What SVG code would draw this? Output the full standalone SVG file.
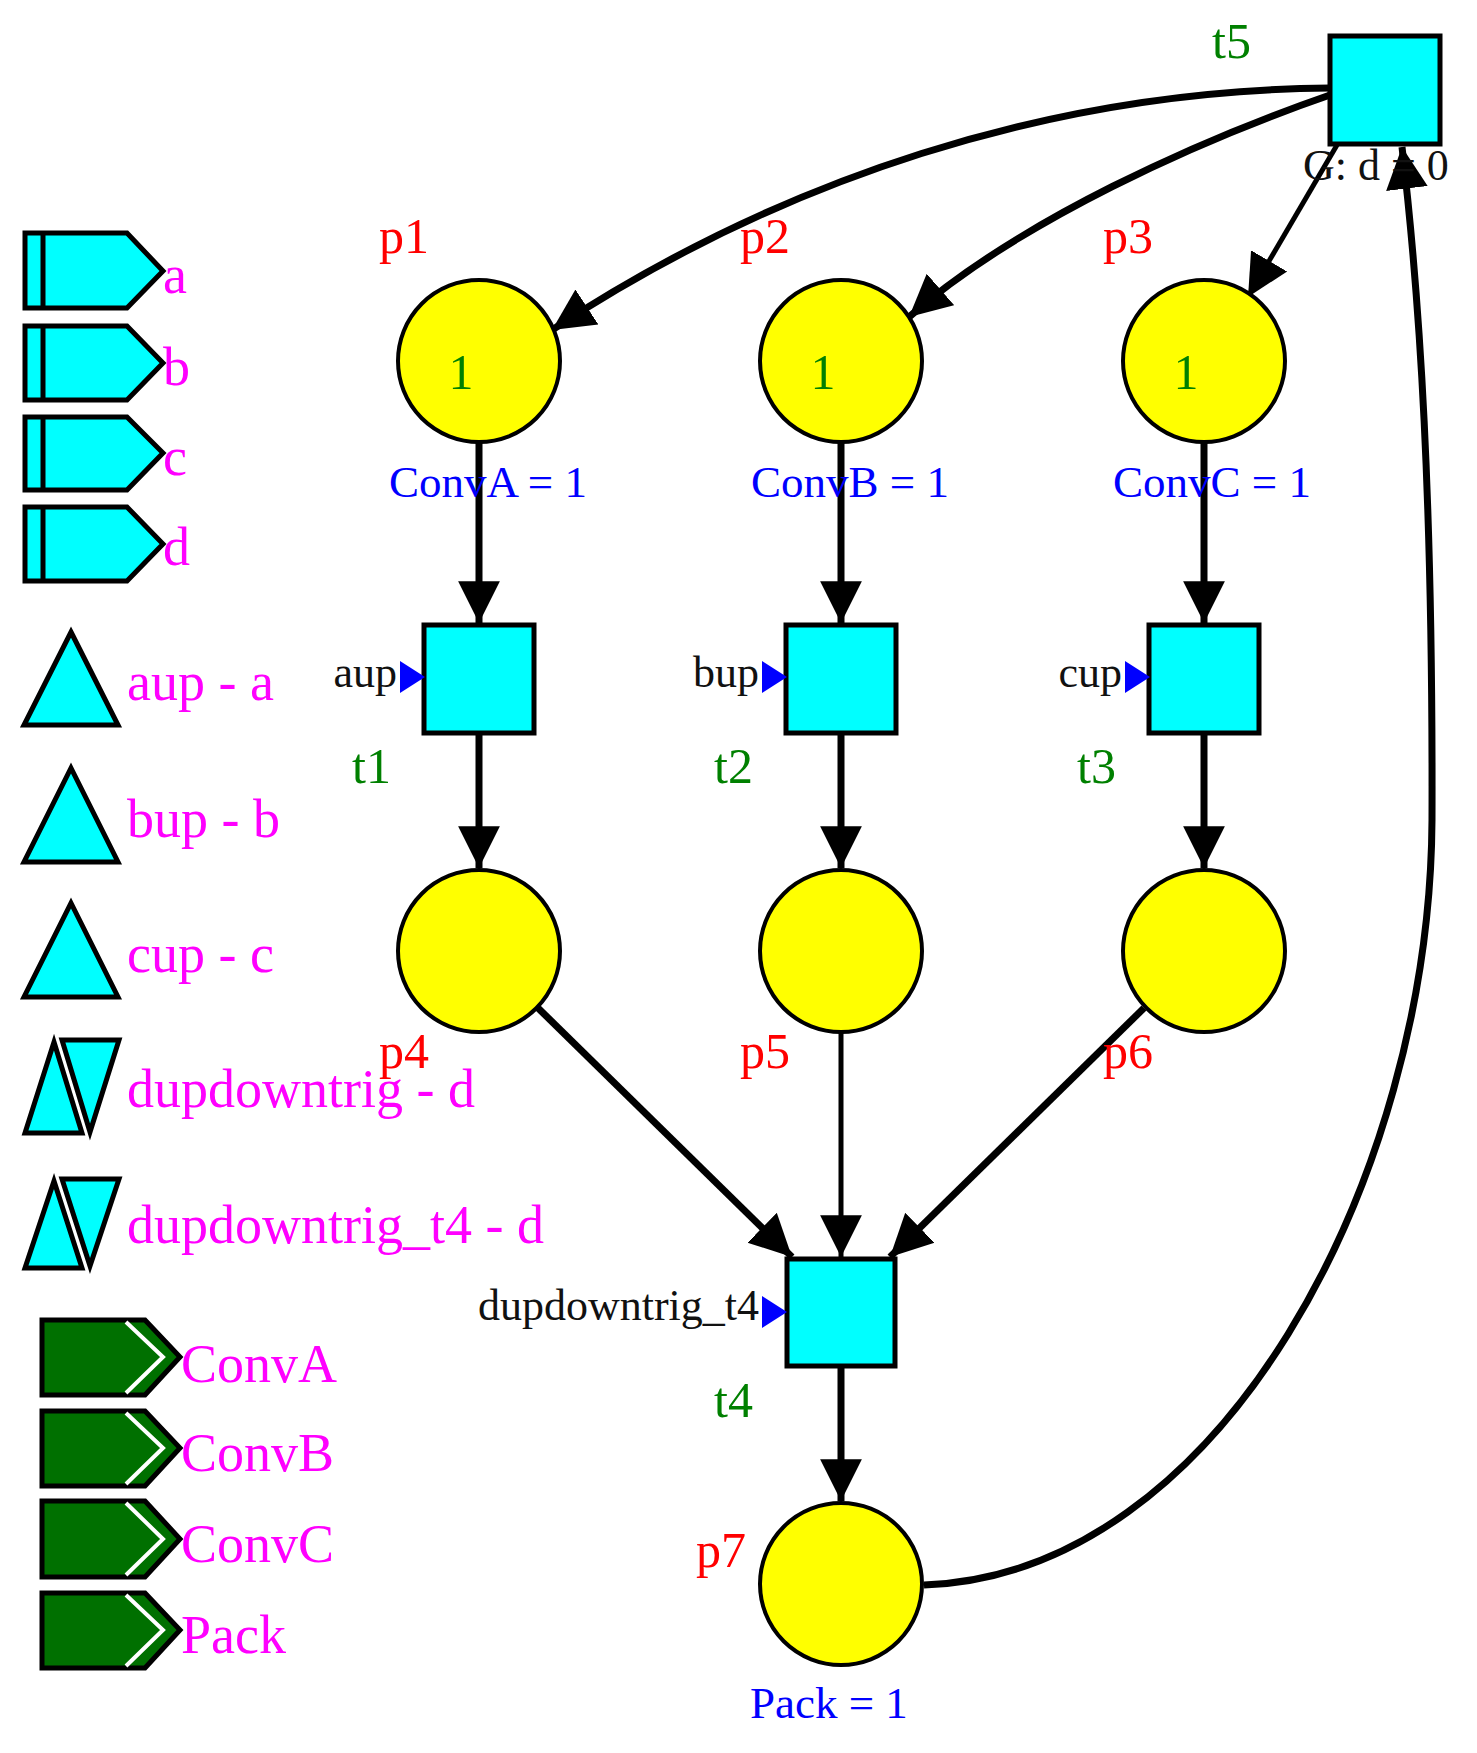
<svg xmlns="http://www.w3.org/2000/svg" width="1477" height="1753" viewBox="0 0 1477 1753">
<style>
text{font-family:"Liberation Serif","Times New Roman",serif}
.pl{fill:#ffff00;stroke:#000;stroke-width:4}
.tr{fill:#00ffff;stroke:#000;stroke-width:5}
.lg{fill:#00ffff;stroke:#000;stroke-width:5}
.gp{fill:#007000;stroke:#000;stroke-width:5}
.ch{fill:none;stroke:#fff;stroke-width:4}
.pn{fill:#ff0000;font-size:50px}
.tn{fill:#008000;font-size:50px}
.ann{fill:#0000ff;font-size:45px}
.blk{fill:#111;font-size:44px}
.mg{fill:#ff00ff;font-size:54px}
.tok{fill:#008000;font-size:50px;text-anchor:middle}
.tri{fill:#0000ff}
.e{fill:none;stroke:#000;stroke-width:7}
.e2{fill:none;stroke:#000;stroke-width:5}
</style>
<defs>
<marker id="ah" markerUnits="userSpaceOnUse" markerWidth="44" markerHeight="44" viewBox="0 0 40 40" refX="38" refY="20" orient="auto">
<path d="M0,1 L38,20 L0,39 z" fill="#000"/>
</marker>
</defs>
<g id="legend">
<g id="lg-a"><path class="lg" d="M25,233 H127 L163,271 L127,308 H25 z M43,233 V308"/><text class="mg" x="163" y="293">a</text></g>
<g id="lg-b"><path class="lg" d="M25,326 H127 L163,363 L127,400 H25 z M43,326 V400"/><text class="mg" x="163" y="385">b</text></g>
<g id="lg-c"><path class="lg" d="M25,417 H127 L163,453 L127,490 H25 z M43,417 V490"/><text class="mg" x="163" y="475">c</text></g>
<g id="lg-d"><path class="lg" d="M25,507 H127 L163,544 L127,581 H25 z M43,507 V581"/><text class="mg" x="163" y="565">d</text></g>
<g id="lg-aup"><polygon class="lg" points="71,632 118,725 24,725"/><text class="mg" x="127" y="700">aup - a</text></g>
<g id="lg-bup"><polygon class="lg" points="71,768 118,862 24,862"/><text class="mg" x="127" y="837">bup - b</text></g>
<g id="lg-cup"><polygon class="lg" points="71,903 118,997 24,997"/><text class="mg" x="127" y="972">cup - c</text></g>
<g id="lg-dup"><polygon class="lg" points="54,1042 82,1133 25,1133"/><polygon class="lg" points="62,1040 119,1040 90,1132"/><text class="mg" x="127" y="1107">dupdowntrig - d</text></g>
<g id="lg-dup4"><polygon class="lg" points="54,1181 82,1268 25,1268"/><polygon class="lg" points="62,1179 119,1179 90,1266"/><text class="mg" x="127" y="1243">dupdowntrig_t4 - d</text></g>
<g id="lg-ConvA"><path class="gp" d="M42,1320 H145 L180,1357 L145,1395 H42 z"/><path class="ch" d="M126,1322 L163,1357 L126,1393"/><text class="mg" x="181" y="1382">ConvA</text></g>
<g id="lg-ConvB"><path class="gp" d="M42,1411 H145 L180,1448 L145,1486 H42 z"/><path class="ch" d="M126,1413 L163,1448 L126,1484"/><text class="mg" x="181" y="1471">ConvB</text></g>
<g id="lg-ConvC"><path class="gp" d="M42,1501 H145 L180,1539 L145,1577 H42 z"/><path class="ch" d="M126,1503 L163,1539 L126,1575"/><text class="mg" x="181" y="1562">ConvC</text></g>
<g id="lg-Pack"><path class="gp" d="M42,1593 H145 L180,1630 L145,1668 H42 z"/><path class="ch" d="M126,1595 L163,1630 L126,1666"/><text class="mg" x="181" y="1653">Pack</text></g>
</g>
<g id="connectors">
<path class="e" d="M1330,88 C1050,90 780,180 552,330" marker-end="url(#ah)"/>
<path class="e" d="M1330,95 C1200,140 1020,220 909,317" marker-end="url(#ah)"/>
<path class="e2" d="M1337,145 L1248,297" marker-end="url(#ah)"/>
<path class="e" d="M924,1585 C1220,1575 1430,1180 1432,820 C1433,500 1420,300 1402,147" marker-end="url(#ah)"/>
<path class="e" d="M479,443 L479,623" marker-end="url(#ah)"/>
<path class="e" d="M841,443 L841,623" marker-end="url(#ah)"/>
<path class="e" d="M1204,443 L1204,623" marker-end="url(#ah)"/>
<path class="e" d="M479,735 L479,868" marker-end="url(#ah)"/>
<path class="e" d="M841,735 L841,868" marker-end="url(#ah)"/>
<path class="e" d="M1204,735 L1204,868" marker-end="url(#ah)"/>
<path class="e" d="M538,1008 L792,1257" marker-end="url(#ah)"/>
<path class="e2" d="M841,1033 L841,1257" marker-end="url(#ah)"/>
<path class="e" d="M1144,1008 L890,1257" marker-end="url(#ah)"/>
<path class="e" d="M841,1366 L841,1501" marker-end="url(#ah)"/>
</g>
<g id="p1"><circle class="pl" cx="479" cy="361" r="81"/><text class="tok" x="461" y="389">1</text><text class="pn" x="379" y="253">p1</text><text class="ann" x="389" y="497">ConvA = 1</text></g>
<g id="p2"><circle class="pl" cx="841" cy="361" r="81"/><text class="tok" x="823" y="389">1</text><text class="pn" x="740" y="253">p2</text><text class="ann" x="751" y="497">ConvB = 1</text></g>
<g id="p3"><circle class="pl" cx="1204" cy="361" r="81"/><text class="tok" x="1186" y="389">1</text><text class="pn" x="1103" y="253">p3</text><text class="ann" x="1113" y="497">ConvC = 1</text></g>
<g id="p4"><circle class="pl" cx="479" cy="951" r="81"/><text class="pn" x="379" y="1068">p4</text></g>
<g id="p5"><circle class="pl" cx="841" cy="951" r="81"/><text class="pn" x="740" y="1068">p5</text></g>
<g id="p6"><circle class="pl" cx="1204" cy="951" r="81"/><text class="pn" x="1103" y="1068">p6</text></g>
<g id="p7"><circle class="pl" cx="841" cy="1584" r="81"/><text class="pn" x="696" y="1567">p7</text><text class="ann" x="750" y="1718">Pack = 1</text></g>
<g id="t1"><rect class="tr" x="424" y="625" width="110" height="108"/><polygon class="tri" points="400,661 425,677 400,693"/><text class="blk" x="397" y="687" text-anchor="end">aup</text><text class="tn" x="352" y="783">t1</text></g>
<g id="t2"><rect class="tr" x="786" y="625" width="110" height="108"/><polygon class="tri" points="762,661 787,677 762,693"/><text class="blk" x="759" y="687" text-anchor="end">bup</text><text class="tn" x="714" y="783">t2</text></g>
<g id="t3"><rect class="tr" x="1149" y="625" width="110" height="108"/><polygon class="tri" points="1125,661 1150,677 1125,693"/><text class="blk" x="1122" y="687" text-anchor="end">cup</text><text class="tn" x="1077" y="783">t3</text></g>
<g id="t4"><rect class="tr" x="787" y="1259" width="108" height="107"/><polygon class="tri" points="762,1296 787,1312 762,1328"/><text class="blk" x="759" y="1320" text-anchor="end">dupdowntrig_t4</text><text class="tn" x="714" y="1417">t4</text></g>
<g id="t5"><rect class="tr" x="1330" y="36" width="110" height="108"/><text class="tn" x="1212" y="58">t5</text><text class="blk" x="1303" y="180">G: d = 0</text></g>
</svg>
